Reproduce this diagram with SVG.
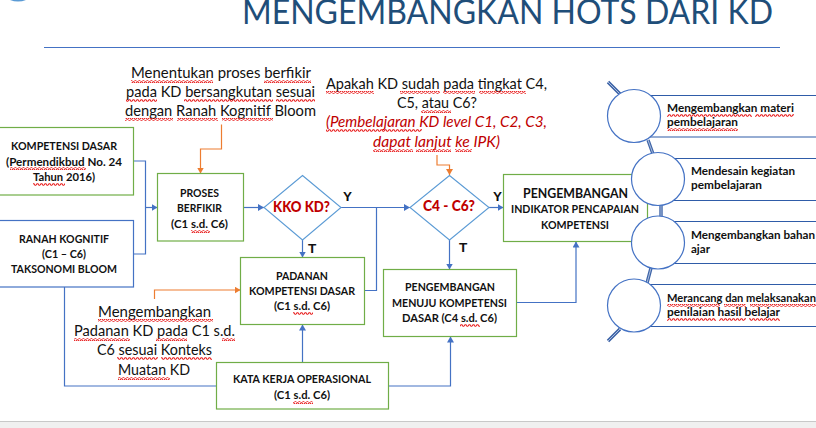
<svg xmlns="http://www.w3.org/2000/svg" width="816" height="428" viewBox="0 0 816 428">
<style>
text{font-family:Lato,"Liberation Sans",sans-serif;fill:#111;text-anchor:start}
.b{font-size:12px;font-weight:700}
.n{font-size:16px}
.r{fill:#c00000;font-style:italic}
.q{font-size:15px;font-weight:900;fill:#c00000}
.l{font-family:"Liberation Sans",sans-serif;font-size:13.5px;font-weight:700}
.w{fill:url(#wave)}
.g{fill:#fff;stroke:#70ad47;stroke-width:1.2}
.bl{fill:#fff;stroke:#4472c4;stroke-width:1.2}
.d{fill:#fff;stroke:#5b9bd5;stroke-width:1.1}
.c{fill:none;stroke:#4472c4;stroke-width:1.2;marker-end:url(#a)}
.c0{fill:none;stroke:#4472c4;stroke-width:1.2}
.o{fill:none;stroke:#ed7d31;stroke-width:1.2;marker-end:url(#ao)}
.rl{fill:none;stroke:#2f5ca8;stroke-width:1.2}
.ci{fill:#fff;stroke:#4472c4;stroke-width:1.2}
.j{fill:none;stroke:#3f65a8;stroke-width:3.4}
.ji{fill:none;stroke:#b8c8e4;stroke-width:.9}
</style>
<defs>
<marker id="a" markerUnits="userSpaceOnUse" markerWidth="7" markerHeight="7" refX="6" refY="3.5" orient="auto"><path d="M0 0L6 3.5L0 7z" fill="#4472c4"/></marker>
<marker id="ao" markerUnits="userSpaceOnUse" markerWidth="7" markerHeight="7" refX="6" refY="3.5" orient="auto"><path d="M0 0L6 3.5L0 7z" fill="#ed7d31"/></marker>
<pattern id="wave" patternUnits="userSpaceOnUse" width="4" height="3"><path d="M0 2.200L1 .8L2 .8L3 2.200L4 2.200" fill="none" stroke="#e81c1c" stroke-width="1.1"/></pattern>
</defs>
<rect width="816" height="428" fill="#fff"/>
<rect x="0" y="422" width="816" height="6" fill="#f0f0f0"/>
<path d="M0 421.500H816" stroke="#c8c8c8" stroke-width="1"/>
<path d="M10 0Q18 3 26 0z" fill="#5b9bd5"/>
<g id="title">
<text x="242" y="24" font-size="34" style="fill:#1f4e79" textLength="531" lengthAdjust="spacingAndGlyphs">MENGEMBANGKAN HOTS DARI KD</text>
<path d="M44 47.500H780" stroke="#4472c4" stroke-width="1.2"/>
</g>
<g id="connectors">
<path class="c0" d="M133.500 161H145.500V254H133.500"/>
<path class="c" d="M145.500 207.500H157.500"/>
<path class="c" d="M243.500 207.500H264"/>
<path class="c" d="M341 207.500H410"/>
<path class="c0" d="M364.500 290.500H376.500V207.500"/>
<path class="c" d="M302.500 240V257.500"/>
<path class="c" d="M489 207.500H503.500"/>
<path class="c" d="M449.500 240V269.500"/>
<path class="c" d="M302.500 362.500V324.500"/>
<path class="c0" d="M64.500 287V386H216.500"/>
<path class="c" d="M388.500 386H450.500V336.500"/>
<path class="c" d="M516.500 302.500H576V241.500"/>
<path class="o" d="M221.500 124.500V149H200.500V173.500"/>
<path class="o" d="M437 155V165H449.500V175"/>
<path class="o" d="M154.500 299V290H240.500"/>
</g>
<g id="note-proses">
<text class="n" x="131" y="78" textLength="180" lengthAdjust="spacingAndGlyphs">Menentukan proses berfikir</text>
<text class="n" x="126" y="97" textLength="189" lengthAdjust="spacingAndGlyphs">pada KD bersangkutan sesuai</text>
<text class="n" x="125" y="116" textLength="191" lengthAdjust="spacingAndGlyphs">dengan Ranah Kognitif Bloom</text>
<rect class="w" x="131" y="80" width="82" height="3"/><rect class="w" x="264" y="80" width="47" height="3"/>
<rect class="w" x="126" y="99" width="31" height="3"/><rect class="w" x="184" y="99" width="89" height="3"/><rect class="w" x="276" y="99" width="39" height="3"/>
<rect class="w" x="125" y="118" width="48" height="3"/><rect class="w" x="177" y="118" width="41" height="3"/><rect class="w" x="222" y="118" width="51" height="3"/>
</g>
<g id="note-c4">
<text class="n" x="326" y="89" textLength="221" lengthAdjust="spacingAndGlyphs">Apakah KD sudah pada tingkat C4,</text>
<text class="n" x="397" y="108" textLength="80" lengthAdjust="spacingAndGlyphs">C5, atau C6?</text>
<text class="n r" x="326" y="127" textLength="221" lengthAdjust="spacingAndGlyphs">(Pembelajaran KD level C1, C2, C3,</text>
<text class="n r" x="373" y="147" textLength="127" lengthAdjust="spacingAndGlyphs">dapat lanjut ke IPK)</text>
<rect class="w" x="326" y="91" width="48" height="3"/><rect class="w" x="400" y="91" width="40" height="3"/><rect class="w" x="443" y="91" width="32" height="3"/><rect class="w" x="479" y="91" width="47" height="3"/>
<rect class="w" x="421" y="110" width="30" height="3"/>
<rect class="w" x="326" y="129" width="96" height="3"/>
<rect class="w" x="373" y="149" width="40" height="3"/><rect class="w" x="416" y="149" width="35" height="3"/><rect class="w" x="455" y="149" width="17" height="3"/>
</g>
<g id="note-padanan">
<text class="n" x="98" y="317" textLength="113" lengthAdjust="spacingAndGlyphs">Mengembangkan</text>
<text class="n" x="74" y="336" textLength="161" lengthAdjust="spacingAndGlyphs">Padanan KD pada C1 s.d.</text>
<text class="n" x="97" y="355" textLength="115" lengthAdjust="spacingAndGlyphs">C6 sesuai Konteks</text>
<text class="n" x="118" y="375" textLength="72" lengthAdjust="spacingAndGlyphs">Muatan KD</text>
<rect class="w" x="98" y="319" width="115" height="3"/>
<rect class="w" x="74" y="338" width="56" height="3"/><rect class="w" x="156" y="338" width="31" height="3"/><rect class="w" x="222" y="338" width="13" height="3"/>
<rect class="w" x="117" y="357" width="41" height="3"/><rect class="w" x="161" y="357" width="51" height="3"/>
<rect class="w" x="118" y="377" width="52" height="3"/>
</g>
<g id="kompetensi-dasar">
<rect class="g" x="-1" y="127.500" width="134.500" height="67.500"/>
<text class="b" x="11" y="150" textLength="106" lengthAdjust="spacingAndGlyphs">KOMPETENSI DASAR</text>
<text class="b" x="6" y="165.500" textLength="116" lengthAdjust="spacingAndGlyphs">(Permendikbud No. 24</text>
<text class="b" x="33" y="181" textLength="62" lengthAdjust="spacingAndGlyphs">Tahun 2016)</text>
<rect class="w" x="10" y="167" width="76" height="3"/><rect class="w" x="33" y="183" width="32" height="3"/>
</g>
<g id="ranah-kognitif">
<rect class="bl" x="-1" y="220.500" width="134.500" height="66.500"/>
<text class="b" x="19" y="243" textLength="90" lengthAdjust="spacingAndGlyphs">RANAH KOGNITIF</text>
<text class="b" x="42" y="258" textLength="44" lengthAdjust="spacingAndGlyphs">(C1 – C6)</text>
<text class="b" x="11" y="273" textLength="106" lengthAdjust="spacingAndGlyphs">TAKSONOMI BLOOM</text>
</g>
<g id="proses-berfikir">
<rect class="g" x="157.500" y="173.500" width="86" height="67.500"/>
<text class="b" x="180" y="197" textLength="39" lengthAdjust="spacingAndGlyphs">PROSES</text>
<text class="b" x="177" y="212" textLength="45" lengthAdjust="spacingAndGlyphs">BERFIKIR</text>
<text class="b" x="171" y="228" textLength="57" lengthAdjust="spacingAndGlyphs">(C1 s.d. C6)</text>
<rect class="w" x="191" y="230" width="19" height="3"/>
</g>
<g id="kko-kd">
<path class="d" d="M302.500 175.500L341 207.500L302.500 240L264 207.500z"/>
<text class="q" x="273" y="212" textLength="57" lengthAdjust="spacingAndGlyphs">KKO KD?</text>
<text class="l" x="343" y="201">Y</text>
<text class="l" x="308" y="253">T</text>
</g>
<g id="padanan">
<rect class="g" x="240.500" y="257.500" width="124" height="67"/>
<text class="b" x="276" y="280" textLength="52" lengthAdjust="spacingAndGlyphs">PADANAN</text>
<text class="b" x="249" y="295" textLength="106" lengthAdjust="spacingAndGlyphs">KOMPETENSI DASAR</text>
<text class="b" x="274" y="310" textLength="56" lengthAdjust="spacingAndGlyphs">(C1 s.d. C6)</text>
<rect class="w" x="293" y="312" width="20" height="3"/>
</g>
<g id="c4-c6">
<path class="d" d="M449.500 175.500L489 207.500L449.500 240L410 207.500z"/>
<text class="q" x="423" y="211" textLength="52" lengthAdjust="spacingAndGlyphs">C4 - C6?</text>
<text class="l" x="493" y="201">Y</text>
<text class="l" x="459" y="252">T</text>
</g>
<g id="ipk">
<rect class="g" x="503.500" y="174.500" width="144" height="67"/>
<text class="b" style="font-size:14px" x="523" y="198" textLength="105" lengthAdjust="spacingAndGlyphs">PENGEMBANGAN</text>
<text class="b" x="511" y="213" textLength="128" lengthAdjust="spacingAndGlyphs">INDIKATOR PENCAPAIAN</text>
<text class="b" x="541" y="229" textLength="68" lengthAdjust="spacingAndGlyphs">KOMPETENSI</text>
</g>
<g id="pengembangan-menuju">
<rect class="g" x="383.500" y="269.500" width="133" height="67"/>
<text class="b" x="405" y="291" textLength="90" lengthAdjust="spacingAndGlyphs">PENGEMBANGAN</text>
<text class="b" x="392" y="307" textLength="115" lengthAdjust="spacingAndGlyphs">MENUJU KOMPETENSI</text>
<text class="b" x="402" y="322" textLength="95" lengthAdjust="spacingAndGlyphs">DASAR (C4 s.d. C6)</text>
<rect class="w" x="460" y="324" width="20" height="3"/>
</g>
<g id="kata-kerja">
<rect class="g" x="216.500" y="362.500" width="172" height="46.500"/>
<text class="b" x="233" y="383" textLength="138" lengthAdjust="spacingAndGlyphs">KATA KERJA OPERASIONAL</text>
<text class="b" x="274" y="399" textLength="56" lengthAdjust="spacingAndGlyphs">(C1 s.d. C6)</text>
<rect class="w" x="293" y="401" width="20" height="3"/>
</g>
<g id="ring">
<path class="j" d="M608 82L620 94M648 140L653 154M661 204V219M651 268L647 283M620 329L608 341"/>
<path class="ji" d="M608 82L620 94M648 140L653 154M661 204V219M651 268L647 283M620 329L608 341"/>
</g>
<g id="materi">
<path class="rl" d="M634 95.500H816M634 137H816"/>
<circle class="ci" cx="634" cy="116" r="26.500"/>
<text class="b" x="667" y="112" textLength="127" lengthAdjust="spacingAndGlyphs">Mengembangkan materi</text>
<text class="b" x="667" y="126" textLength="71" lengthAdjust="spacingAndGlyphs">pembelajaran</text>
<rect class="w" x="667" y="114" width="85" height="3"/><rect class="w" x="755" y="114" width="39" height="3"/><rect class="w" x="667" y="128" width="71" height="3"/>
</g>
<g id="kegiatan">
<path class="rl" d="M658 158.500H816M658 200.500H816"/>
<circle class="ci" cx="658" cy="179" r="26.500"/>
<text class="b" x="691" y="175" textLength="104" lengthAdjust="spacingAndGlyphs">Mendesain kegiatan</text>
<text class="b" x="691" y="189" textLength="71" lengthAdjust="spacingAndGlyphs">pembelajaran</text>
</g>
<g id="bahan">
<path class="rl" d="M658 221.500H816M658 263.500H816"/>
<circle class="ci" cx="658" cy="242.500" r="26.500"/>
<text class="b" x="691" y="239" textLength="124" lengthAdjust="spacingAndGlyphs">Mengembangkan bahan</text>
<text class="b" x="691" y="253" textLength="19" lengthAdjust="spacingAndGlyphs">ajar</text>
</g>
<g id="penilaian">
<path class="rl" d="M634 284.500H816M634 326.500H816"/>
<circle class="ci" cx="634" cy="305.500" r="26.500"/>
<text class="b" x="667" y="302" textLength="149" lengthAdjust="spacingAndGlyphs">Merancang dan melaksanakan</text>
<text class="b" x="667" y="316" textLength="113" lengthAdjust="spacingAndGlyphs">penilaian hasil belajar</text>
<rect class="w" x="667" y="304" width="53" height="3"/><rect class="w" x="724" y="304" width="22" height="3"/><rect class="w" x="750" y="304" width="66" height="3"/>
<rect class="w" x="667" y="318" width="49" height="3"/><rect class="w" x="719" y="318" width="27" height="3"/><rect class="w" x="749" y="318" width="31" height="3"/>
</g>
</svg>
